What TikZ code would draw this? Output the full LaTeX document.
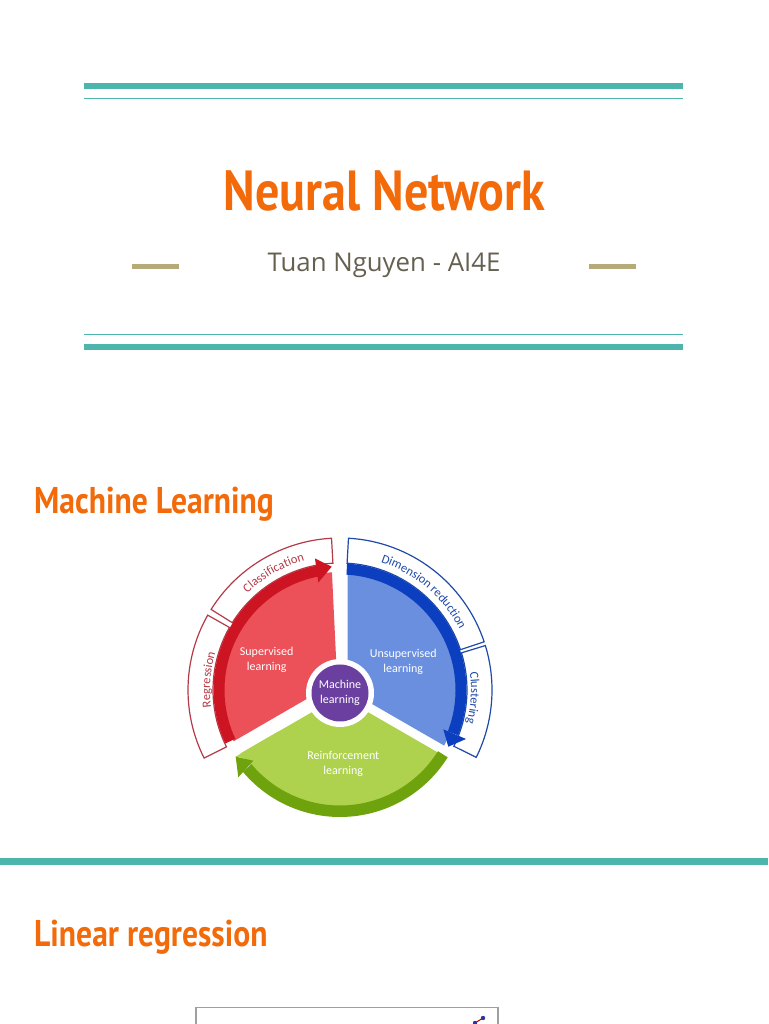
\documentclass[tikz,border=0pt]{standalone}
\usepackage{fontspec}
\usetikzlibrary{decorations.text}
\setmainfont{Open Sans}
\newfontfamily\headfont[FakeStretch=0.85]{PT Sans}
\newfontfamily\wheelfont{Carlito}
\definecolor{teal}{HTML}{4DB6AC}
\definecolor{tan}{HTML}{B5AA78}
\definecolor{orangeT}{HTML}{F26A0A}
\definecolor{subT}{HTML}{666050}
\definecolor{redD}{HTML}{CC1422}
\definecolor{redF}{HTML}{EC5058}
\definecolor{redL}{HTML}{B53A48}
\definecolor{blueD}{HTML}{0B3FBF}
\definecolor{blueF}{HTML}{6B8FDF}
\definecolor{blueL}{HTML}{1F4AA8}
\definecolor{greenD}{HTML}{6FA30E}
\definecolor{greenF}{HTML}{AED24E}
\definecolor{purpleC}{HTML}{6A3FA0}
\tikzset{
  bar/.style={fill=teal,draw=none},
  thinbar/.style={draw=teal,line width=0.8pt},
  tanbar/.style={fill=tan,draw=none},
  heading/.style={text=orangeT,font=\headfont\bfseries\fontsize{37.2}{44}\selectfont,anchor=west,inner sep=0pt},
  wheeltext/.style={text=white,font=\wheelfont\fontsize{12}{15}\selectfont,align=center,inner sep=0pt},
  redbox/.style={draw=redL,line width=1.2pt,fill=white,line join=miter},
  bluebox/.style={draw=blueL,line width=1.2pt,fill=white,line join=miter},
}
\newcommand{\arclabel}[5]{% colour, radius, start, end, text
  \path[decorate,decoration={text along path,text align=center,
    text={|\wheelfont\fontsize{12.5}{15}\selectfont\color{#1}|#5}}]
    (#3:#2) arc[start angle=#3,end angle=#4,radius=#2pt];}
\newcommand{\annulus}[5]{% colour, from, to, inner, outer
  \fill[#1] (#2:#5) arc[start angle=#2,end angle=#3,radius=#5pt]
    -- (#3:#4) arc[start angle=#3,end angle=#2,radius=#4pt] -- cycle;}
\begin{document}
\begin{tikzpicture}[x=1pt,y=1pt]
\useasboundingbox (0,0) rectangle (768,1024);
\clip (0,0) rectangle (768,1024);
% header frame
\fill[bar] (84,1024-89) rectangle (683,1024-83);
\draw[thinbar] (84,1024-98) -- (683,1024-98);
\draw[thinbar] (84,1024-334) -- (683,1024-334);
\fill[bar] (84,1024-350) rectangle (683,1024-344);
\node[text=orangeT,font=\headfont\bfseries\fontsize{56.5}{66}\selectfont,inner sep=0pt] (title) at (384.5,1024-191) {Neural Network};
\node[text=subT,font=\fontsize{25.8}{30}\selectfont,inner sep=0pt] (subtitle) at (384,1024-265) {Tuan Nguyen - AI4E};
\fill[tanbar] (132,1024-269) rectangle (179,1024-264);
\fill[tanbar] (589,1024-269) rectangle (636,1024-264);
\node[heading] (ml) at (34,1024-504) {Machine Learning};
\fill[bar] (0,1024-865) rectangle (768,1024-858);
\node[heading] (lr) at (34,1024-937) {Linear regression};
% clipped chart frame at the bottom
\draw[draw=gray!75,line width=1.4pt,fill=white] (196,-5) rectangle (498,1024-1007.5);
\draw[red!70!black,line width=1pt] (475,1024-1023) -- (483,1024-1018);
\fill[blue!50!black!80] (483,1024-1018) circle (2.2);
\fill[blue!50!black!80] (475,1024-1023) circle (2.2);
% wheel
\begin{scope}[shift={(340,334)}]
  % outer label boxes
  \draw[redbox] (93.2:152) arc[start angle=93.2,end angle=148,radius=152pt] -- (148:127) arc[start angle=148,end angle=93.2,radius=127pt] -- cycle;
  \draw[redbox] (150.5:152) arc[start angle=150.5,end angle=206.6,radius=152pt] -- (206.6:127) arc[start angle=206.6,end angle=150.5,radius=127pt] -- cycle;
  \draw[bluebox] (86.8:152) arc[start angle=86.8,end angle=18.5,radius=152pt] -- (18.5:127) arc[start angle=18.5,end angle=86.8,radius=127pt] -- cycle;
  \draw[bluebox] (17:152) arc[start angle=17,end angle=-26.3,radius=152pt] -- (-26.3:127) arc[start angle=-26.3,end angle=17,radius=127pt] -- cycle;
  % sector fills
  \begin{scope}
    \clip (-9,200) -- (-8.3,123) -- (-4,33) -- (-4,8) -- (-263,-142) -- (-300,200) -- cycle;
    \fill[redF] (0,0) circle (118);
  \end{scope}
  \begin{scope}
    \clip (7.7,200) -- (7.7,0) -- (268,-150) -- (300,200) -- cycle;
    \fill[blueF] (0,0) circle (118);
  \end{scope}
  \begin{scope}
    \clip (0,-6) -- (-260,-156) -- (0,-300) -- (260,-156) -- cycle;
    \fill[greenF] (0,0) circle (118);
    \fill[greenF] (-104.3,-66.7) -- (-60,-40) -- (-86,-70) -- cycle;
  \end{scope}
  % dark arcs and arrowheads
  \annulus{redD}{205}{100.5}{115.5}{126.5}
  \fill[redD] (-8.3,123.3) -- (-25,131.5) -- (-21.7,107.5) -- cycle;
  \annulus{blueD}{86.8}{-21}{115.5}{126.5}
  \fill[blueD] (108.3,-56.7) -- (103.3,-39.3) -- (126,-49) -- cycle;
  \annulus{greenD}{220}{328}{115.5}{127}
  \fill[greenD] (-104.3,-66.7) -- (-101.7,-87.3) -- (-86.7,-70.7) -- cycle;
  % hub
  \fill[white] (0,-3) circle (34);
  \node[circle,fill=purpleC,minimum size=57pt,inner sep=0pt,text=white,font=\wheelfont\fontsize{12}{15}\selectfont,align=center] (hub) at (0,-3) {Machine\\learning};
  \node[wheeltext] (sup) at (-73.3,30) {Supervised\\learning};
  \node[wheeltext] (unsup) at (63.3,28.3) {Unsupervised\\learning};
  \node[wheeltext] (reinf) at (3.3,-73.7) {Reinforcement\\learning};
  % curved labels
  \arclabel{redL}{134}{136}{103}{Classification}
  \arclabel{blueL}{134}{74}{25}{Dimension reduction}
  \arclabel{blueL}{131}{8}{-15}{Clustering}
  \arclabel{redL}{130}{188}{163}{Regression}
\end{scope}
\end{tikzpicture}
\end{document}
